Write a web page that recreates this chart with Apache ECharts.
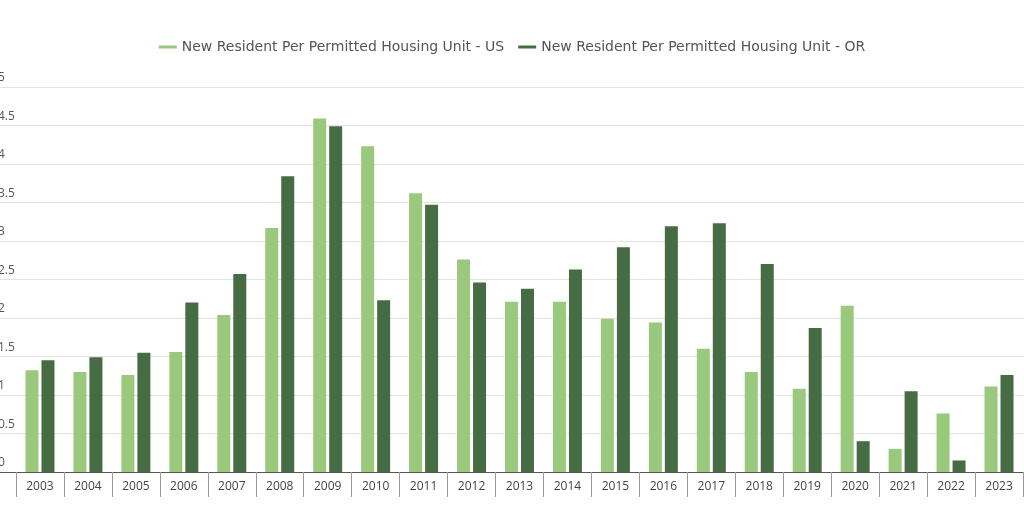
<!DOCTYPE html>
<html>
<head>
<meta charset="utf-8">
<script src="https://cdn.jsdelivr.net/npm/echarts@6/dist/echarts.min.js"></script>
<style>html,body{margin:0;padding:0;background:#fff}#c{width:1024px;height:512px}</style>
</head>
<body>
<div id="c"></div>
<script>
const years = ['2003','2004','2005','2006','2007','2008','2009','2010','2011','2012','2013','2014','2015','2016','2017','2018','2019','2020','2021','2022','2023'];
const usValues = [1.32,1.30,1.26,1.56,2.04,3.17,4.59,4.23,3.62,2.76,2.21,2.21,1.99,1.94,1.60,1.30,1.08,2.16,0.30,0.76,1.11];
const orValues = [1.45,1.49,1.55,2.20,2.57,3.84,4.49,2.23,3.47,2.46,2.38,2.63,2.92,3.19,3.23,2.70,1.87,0.40,1.05,0.15,1.26];
const seriesNames = ['New Resident Per Permitted Housing Unit - US','New Resident Per Permitted Housing Unit - OR'];
const yTicks = {min:0, max:5, interval:0.5};

const chart = echarts.init(document.getElementById('c'), null, {renderer:'canvas'});
const font = 'Open Sans';
chart.setOption({
  animation:false,
  textStyle:{fontFamily:font},
  legend:{
    top:35, left:'center',
    icon:'rect', itemWidth:18, itemHeight:3, itemGap:14,
    textStyle:{color:'#555', fontSize:14, fontFamily:'DejaVu Sans'},
    data:seriesNames
  },
  grid:[
    {left:0, right:0, top:87, bottom:40, containLabel:false, outerBoundsMode:'none'},
    {left:16, right:1, top:87, bottom:40, containLabel:false, outerBoundsMode:'none'}
  ],
  xAxis:[
    {gridIndex:0, type:'category', data:years, axisLine:{show:true, lineStyle:{color:'#555', width:1}},
     axisTick:{show:false}, axisLabel:{show:false}, splitLine:{show:false}},
    {gridIndex:1, type:'category', data:years,
     axisLine:{show:false},
     axisTick:{show:true, length:25, lineStyle:{color:'#999'}},
     axisLabel:{color:'#444', fontSize:12, margin:9, fontFamily:font},
     splitLine:{show:false}}
  ],
  yAxis:[
    {gridIndex:0, type:'value', min:yTicks.min, max:yTicks.max, interval:yTicks.interval,
     offset:6,
     axisLine:{show:false}, axisTick:{show:false},
     splitLine:{show:true, lineStyle:{color:'#e3e3e3', width:1}},
     axisLabel:{inside:true, margin:4, verticalAlign:'bottom', padding:[0,0,3,0], color:'#555', fontSize:12, fontFamily:font}},
    {gridIndex:1, type:'value', min:yTicks.min, max:yTicks.max, interval:yTicks.interval, show:false,
     splitLine:{show:false}}
  ],
  series:[
    {name:seriesNames[0], type:'bar', xAxisIndex:1, yAxisIndex:1, data:usValues,
     barWidth:13, barGap:'23%',
     itemStyle:{color:'#9AC97D'}},
    {name:seriesNames[1], type:'bar', xAxisIndex:1, yAxisIndex:1, data:orValues,
     barWidth:13, barGap:'23%',
     itemStyle:{color:'#466C43'}}
  ]
});
</script>
</body>
</html>
